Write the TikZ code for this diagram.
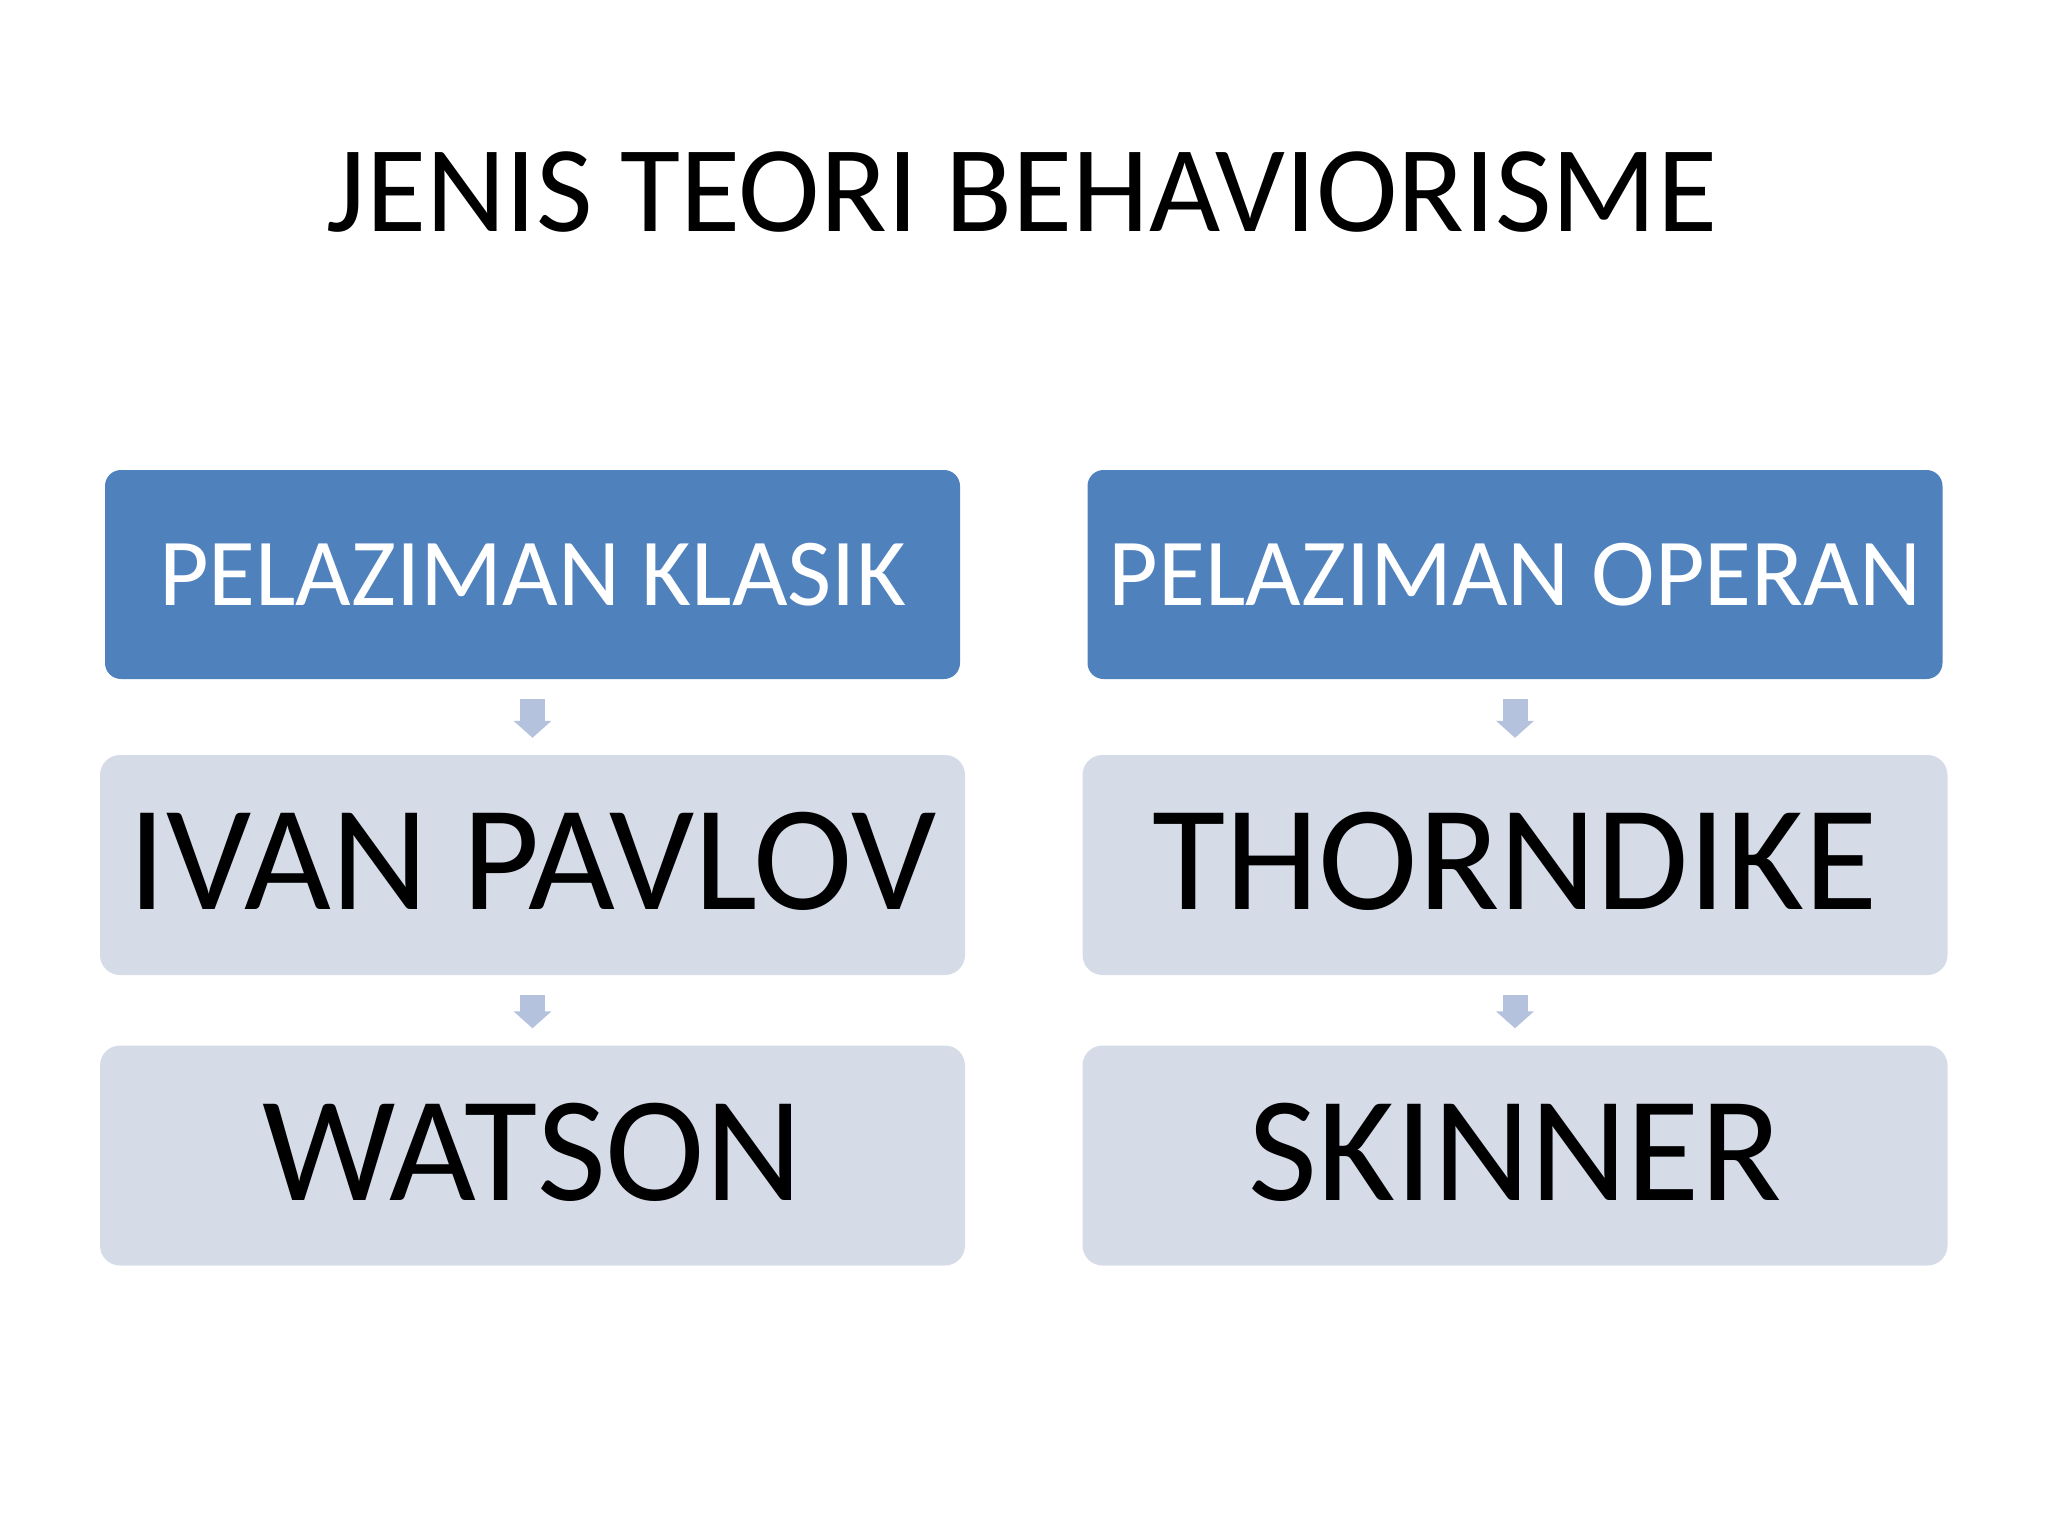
\documentclass[tikz,border=0pt]{standalone}
\usepackage{fontspec}
\setmainfont{Carlito}
\usetikzlibrary{shapes, arrows.meta}
\definecolor{kindblue}{HTML}{4F81BD}
\definecolor{personfill}{HTML}{D6DBE8}
\definecolor{arrowfill}{HTML}{B4C2DD}
\tikzstyle{title} = [inner sep=0pt, text=black, font=\fontsize{123}{125}\selectfont]
\tikzstyle{kind} = [rectangle, rounded corners=16pt, minimum width=855pt, minimum height=209pt, inner sep=0pt, text centered, fill=kindblue, text=white, font=\fontsize{96}{98}\selectfont]
\tikzstyle{person} = [rectangle, rounded corners=20pt, minimum width=865pt, minimum height=220pt, inner sep=0pt, text depth=8pt, text centered, fill=personfill, text=black, font=\fontsize{150}{152}\selectfont]
\tikzstyle{arrow} = [draw=arrowfill, line width=25pt, -{Triangle[width=37pt,length=17pt,fill=arrowfill]}, shorten <=20pt, shorten >=17pt]

\begin{document}
\begin{tikzpicture}[node distance=290.5pt]
    \useasboundingbox (0pt,0pt) rectangle (2048pt,-1536pt);
    \node (title) [title] at (1022pt,-192pt) {JENIS TEORI BEHAVIORISME};

    \node (klasik) [kind] at (532.5pt,-574.5pt) {PELAZIMAN KLASIK};
    \node (pavlov) [person, below of=klasik] {IVAN PAVLOV};
    \node (watson) [person, below of=pavlov] {WATSON};

    \node (operan) [kind] at (1515pt,-574.5pt) {PELAZIMAN OPERAN};
    \node (thorndike) [person, below of=operan] {THORNDIKE};
    \node (skinner) [person, below of=thorndike] {SKINNER};

    \draw [arrow] (klasik) -- (pavlov);
    \draw [arrow] (pavlov) -- (watson);
    \draw [arrow] (operan) -- (thorndike);
    \draw [arrow] (thorndike) -- (skinner);

\end{tikzpicture}
\end{document}
